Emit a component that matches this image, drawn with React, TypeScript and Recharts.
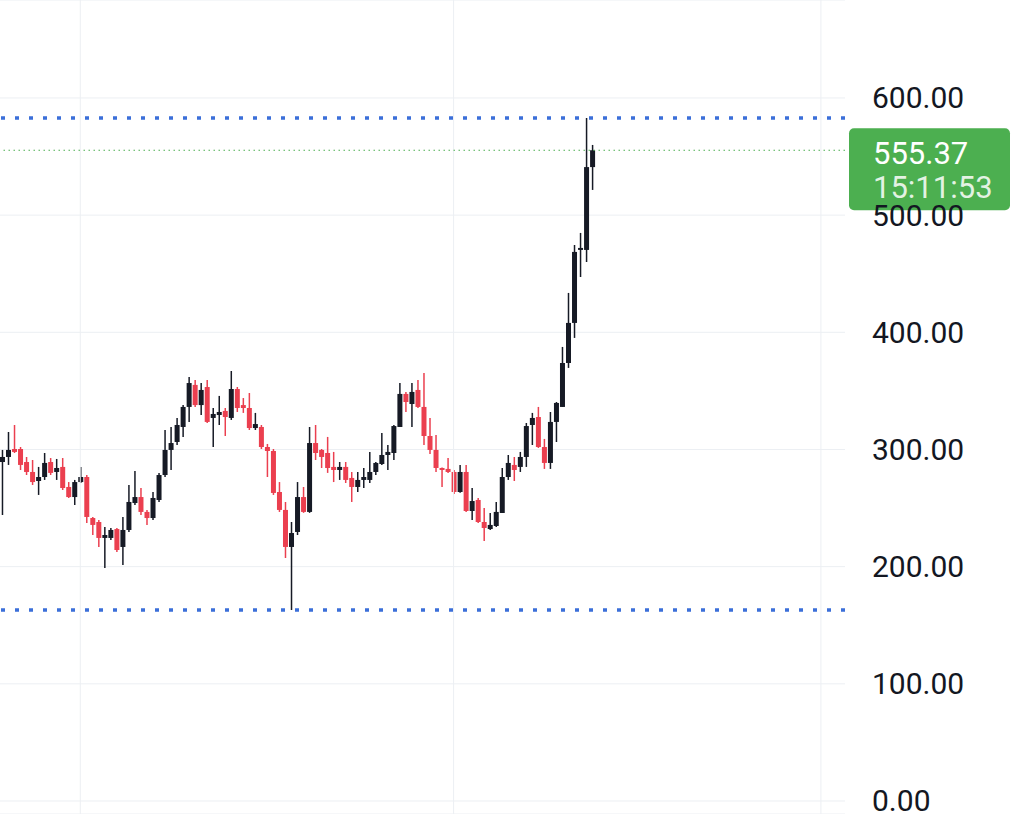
import React from 'react';
import { ComposedChart, Bar, XAxis, YAxis, CartesianGrid, ReferenceLine } from 'recharts';

// daily candles
const opens = [
  289.3, 293.6, 300.4, 300.4, 289.3, 280.8, 273.1, 276.5, 289.3, 280.8,
  285.1, 268.0, 259.4, 272.2, 276.5, 241.5, 238.1, 224.5, 224.5, 232.1,
  216.8, 231.3, 254.3, 259.4, 246.7, 241.5, 256.9, 278.2, 299.6, 306.4,
  319.2, 336.3, 355.1, 337.9, 353.3, 326.9, 329.4, 332.9, 326.9, 351.6,
  337.9, 335.4, 318.3, 319.2, 302.1, 298.7, 263.7, 248.4, 216.8, 229.6,
  259.4, 246.7, 305.5, 299.6, 297.0, 285.1, 282.5, 285.1, 275.7, 268.0,
  274.0, 274.0, 280.8, 287.6, 295.3, 297.0, 319.2, 347.4, 338.8, 350.8,
  336.3, 311.5, 299.6, 284.2, 283.4, 280.8, 263.7, 280.8, 247.5, 256.9,
  238.1, 232.1, 234.7, 245.8, 276.5, 286.8, 285.1, 293.6, 320.9, 327.7,
  302.1, 288.5, 323.5, 336.3, 373.8, 408.0, 470.3, 470.3, 541.0,
];
const highs = [
  299.6, 314.9, 320.9, 302.1, 293.6, 291.0, 285.1, 297.0, 292.7, 291.9,
  292.7, 272.2, 274.0, 285.1, 278.2, 242.4, 239.8, 233.8, 233.0, 233.0,
  242.4, 269.7, 281.6, 267.1, 248.4, 263.7, 280.0, 316.6, 319.2, 326.9,
  337.9, 361.9, 359.3, 356.7, 359.3, 335.4, 345.7, 335.4, 367.0, 353.3,
  343.9, 348.2, 331.2, 320.9, 304.7, 300.4, 272.2, 255.2, 238.1, 272.2,
  268.0, 319.2, 320.9, 300.4, 310.7, 297.9, 289.3, 289.3, 280.8, 280.8,
  284.2, 297.9, 289.3, 314.1, 303.8, 320.9, 356.7, 349.1, 356.7, 359.3,
  365.3, 326.9, 312.4, 284.6, 292.7, 282.5, 286.8, 286.8, 267.1, 258.6,
  250.1, 245.8, 255.2, 284.2, 295.3, 293.6, 297.9, 322.6, 331.2, 336.3,
  309.0, 332.0, 340.5, 387.5, 433.6, 474.5, 484.8, 582.9, 559.9,
];
const lows = [
  244.1, 286.8, 297.0, 282.5, 278.2, 269.7, 261.2, 274.0, 278.2, 274.0,
  265.4, 258.6, 252.6, 271.4, 237.3, 227.0, 216.8, 198.8, 222.8, 212.5,
  201.4, 229.6, 252.6, 244.1, 235.6, 239.8, 255.2, 276.5, 282.5, 303.8,
  310.7, 323.5, 336.3, 329.4, 322.6, 302.1, 320.9, 311.5, 325.2, 332.0,
  331.2, 316.6, 316.6, 300.4, 276.5, 261.2, 246.7, 207.4, 163.0, 227.0,
  245.9, 245.9, 291.0, 284.2, 280.0, 272.2, 274.0, 271.4, 255.2, 263.7,
  267.1, 271.4, 278.2, 286.8, 282.5, 291.0, 319.2, 332.0, 319.2, 335.4,
  303.8, 296.1, 280.8, 268.0, 280.0, 262.0, 263.0, 246.7, 239.8, 237.3,
  221.9, 231.3, 233.8, 245.8, 274.0, 273.1, 280.8, 285.1, 303.8, 301.3,
  283.4, 283.4, 306.4, 336.3, 369.6, 395.2, 447.2, 460.0, 521.5,
];
const closes = [
  293.6, 299.6, 297.9, 286.8, 280.8, 272.2, 276.5, 288.5, 280.0, 284.2,
  267.1, 259.4, 272.2, 276.5, 242.4, 235.6, 224.5, 227.0, 231.3, 214.2,
  231.3, 255.2, 259.4, 246.7, 241.5, 258.6, 278.2, 299.6, 305.5, 320.9,
  336.3, 356.7, 337.9, 350.8, 323.5, 330.3, 332.0, 327.7, 351.6, 335.4,
  335.4, 318.3, 321.7, 302.1, 298.7, 262.9, 248.4, 216.8, 228.7, 259.4,
  246.7, 305.5, 297.0, 293.6, 284.2, 282.5, 285.1, 274.0, 268.0, 274.0,
  276.5, 280.8, 288.5, 295.3, 297.9, 320.0, 347.4, 340.5, 349.1, 336.3,
  311.5, 299.6, 284.2, 282.5, 280.8, 263.7, 280.8, 247.5, 256.0, 238.1,
  233.0, 235.6, 246.7, 276.5, 288.5, 282.5, 293.6, 320.0, 326.9, 302.1,
  288.5, 323.5, 339.7, 373.8, 408.0, 468.6, 472.0, 541.0, 555.37,
];

const yTicks = [0, 100, 200, 300, 400, 500, 600];
const monthTicks = [13, 75, 136];
const periodHigh = 582.9;
const periodLow = 163.0;
const lastPrice = 555.37;
const lastTime = '15:11:53';

const UP = '#161a25';
const DOWN = '#eb3f4f';
const GREEN = '#4caf50';
const BLUE = '#3b6fd9';
const GRID = '#eceff3';
const FONT = 'Roboto, "Noto Sans", sans-serif';

const data = opens.map((o, i) => ({
  i,
  open: o,
  high: highs[i],
  low: lows[i],
  close: closes[i],
  range: [lows[i], highs[i]],
}));

const Candle = (props: any) => {
  const { x, y, width, height, payload } = props;
  const { open, close, high, low } = payload;
  const color = close >= open ? UP : DOWN;
  const ratio = height / (high - low);
  const top = y + (high - Math.max(open, close)) * ratio;
  const bodyH = Math.max(1, Math.abs(open - close) * ratio);
  const cx = x + width / 2;
  return (
    <g>
      <line x1={cx} x2={cx} y1={y} y2={y + height} stroke={color} strokeWidth={1.5} />
      <rect x={x} y={top} width={width} height={bodyH} fill={color} />
    </g>
  );
};

const PriceTick = (props: any) => {
  const { x, y, payload } = props;
  return (
    <text x={x} y={y} dy={10.5} textAnchor="start" fontFamily={FONT} fontSize={30} fill="#131722">
      {Number(payload.value).toFixed(2)}
    </text>
  );
};

const LastPriceLabel = (props: any) => {
  const { viewBox } = props;
  const bx = viewBox.x + viewBox.width + 4;
  const by = viewBox.y;
  return (
    <g>
      <rect x={bx} y={by - 22} width={161} height={82} rx={5} fill={GREEN} />
      <text x={bx + 24} y={by + 14} fontFamily={FONT} fontSize={31} fill="#ffffff">
        {lastPrice.toFixed(2)}
      </text>
      <text x={bx + 24} y={by + 48} fontFamily={FONT} fontSize={31} fill="rgba(255,255,255,0.85)">
        {lastTime}
      </text>
    </g>
  );
};

export default function App() {
  return (
    <div style={{ position: 'absolute', left: 0, top: 0, width: 1024, height: 814, background: '#fff' }}>
      <ComposedChart width={1024} height={814} data={data} margin={{ top: 0, right: 0, bottom: 0, left: 0 }}>
        <CartesianGrid stroke={GRID} strokeWidth={1} vertical={false} />
        <XAxis
          dataKey="i"
          type="number"
          domain={[-0.33, 140]}
          allowDataOverflow
          ticks={monthTicks}
          tick={false}
          axisLine={false}
          tickLine={false}
          height={0}
        />
        <YAxis
          orientation="right"
          type="number"
          domain={[-11.1, 683.6]}
          allowDataOverflow
          ticks={yTicks}
          width={179}
          axisLine={false}
          tickLine={false}
          tickSize={0}
          tickMargin={27}
          tick={<PriceTick />}
        />
        {monthTicks.map((t) => (
          <ReferenceLine key={t} x={t} stroke={GRID} strokeWidth={1} />
        ))}
        <ReferenceLine y={periodHigh} stroke={BLUE} strokeWidth={3.5} strokeDasharray="4 10" />
        <ReferenceLine y={periodLow} stroke={BLUE} strokeWidth={3.5} strokeDasharray="4 10" />
        <ReferenceLine y={lastPrice} stroke={GREEN} strokeWidth={1} strokeDasharray="1.5 3.5" label={<LastPriceLabel />} />
        <Bar dataKey="range" barSize={5} shape={<Candle />} isAnimationActive={false} />
      </ComposedChart>
    </div>
  );
}
